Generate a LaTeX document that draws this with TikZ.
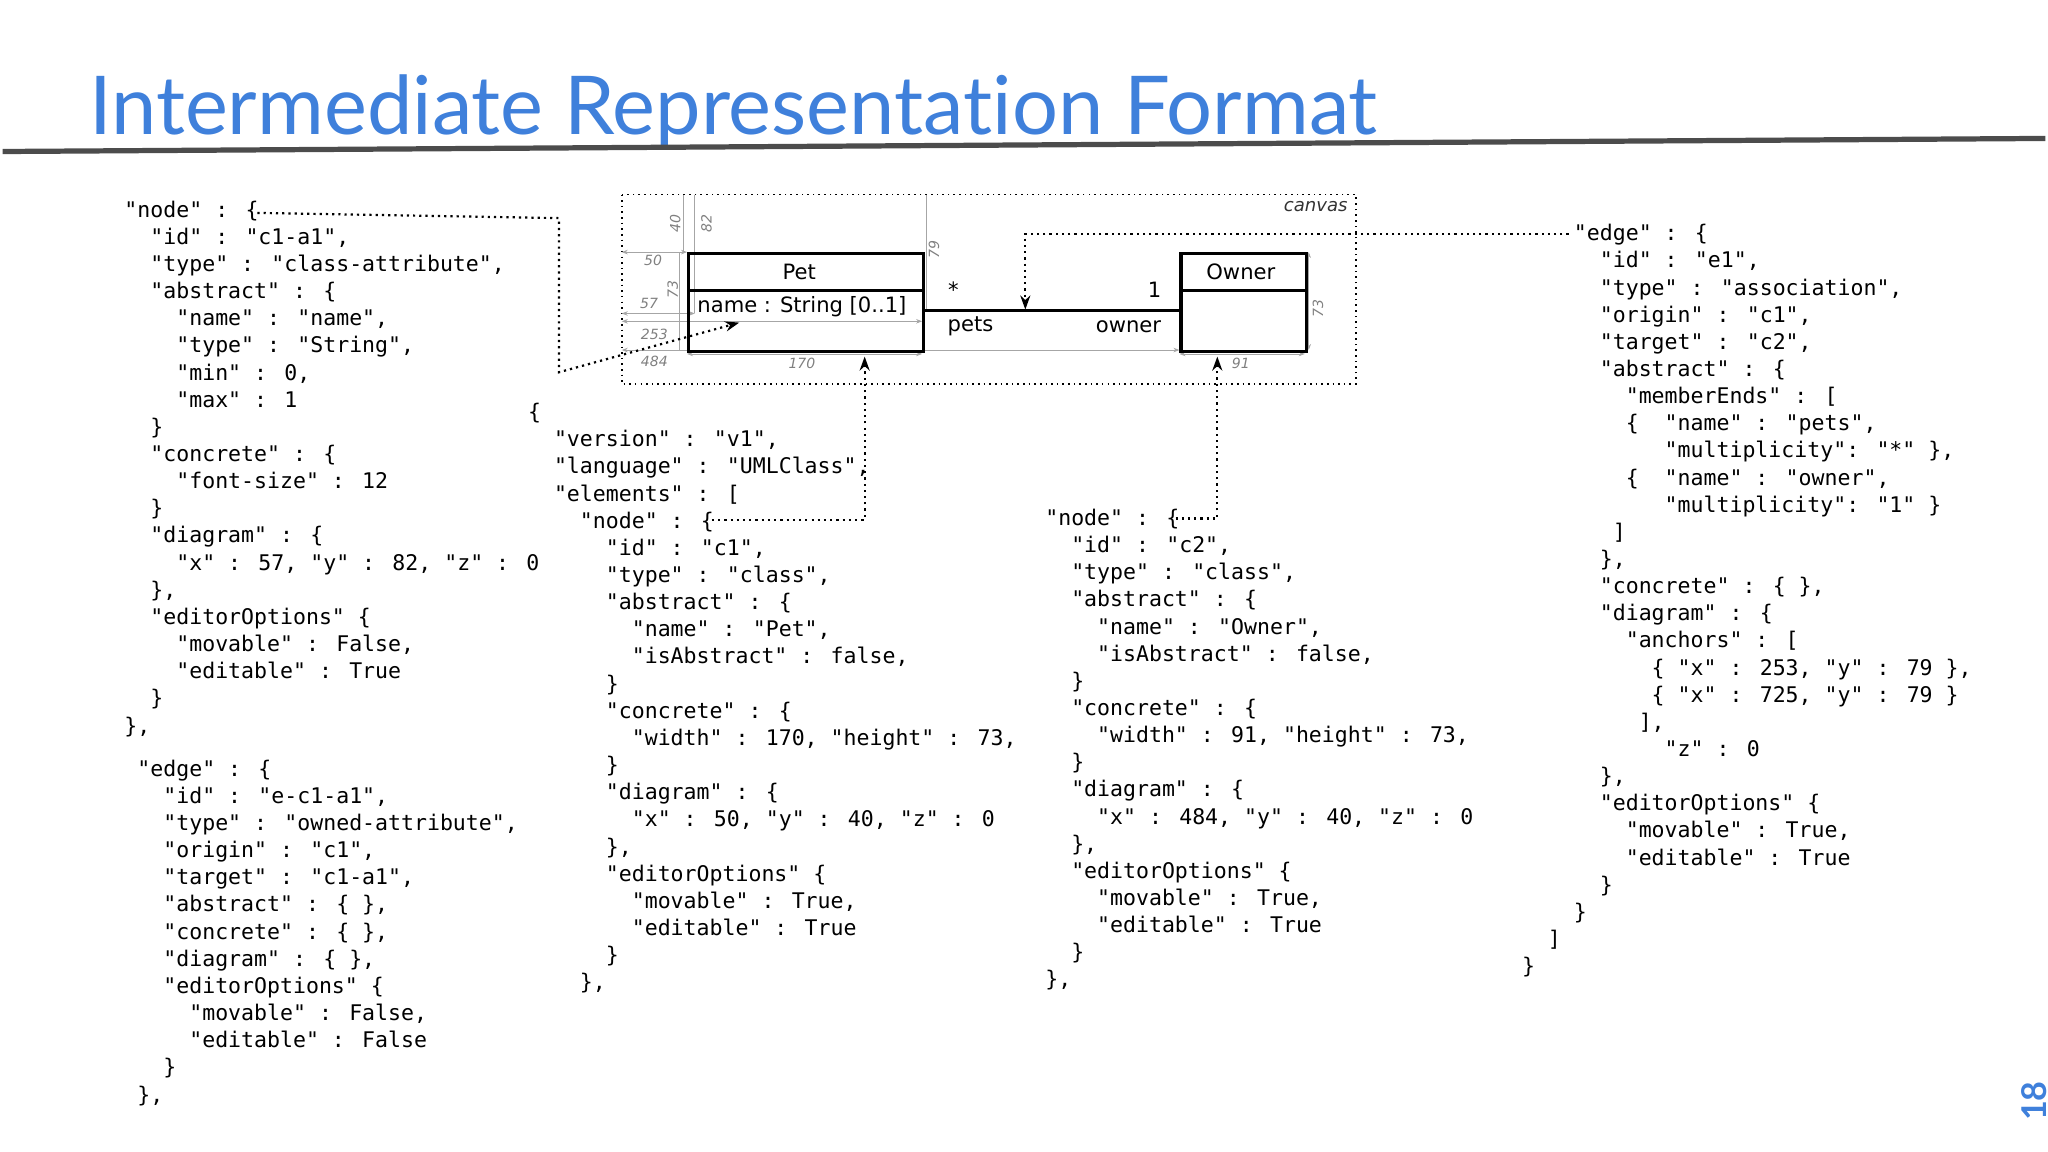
\documentclass[tikz,border=0pt]{standalone}
\usepackage{fontspec}
\usetikzlibrary{arrows.meta}
\newfontfamily\codefont{DejaVu Sans Mono}
\newfontfamily\diafont{DejaVu Sans}
\newfontfamily\titlefont{Lato}
\definecolor{titleblue}{HTML}{3F80DB}
\newcommand\I[1]{\hspace*{#1\fontcharwd\font`x}}
\tikzset{
  code/.style={font=\codefont\fontsize{10.72}{13.51}\selectfont, align=left, anchor=north west, inner sep=0pt},
  cls/.style={draw, line width=1.6pt},
  dim/.style={draw=gray!70, line width=0.4pt},
  dimlab/.style={font=\diafont\itshape\fontsize{7}{8}\selectfont, text=gray, inner sep=0pt},
  dia/.style={font=\diafont\fontsize{10.5}{12}\selectfont, inner sep=0pt},
  link/.style={draw, line width=1.1pt, dotted, -{Stealth[length=7pt,width=5pt]}},
}
\begin{document}
\begin{tikzpicture}[x=0.65pt,y=-0.65pt]
\useasboundingbox (0,0) rectangle (1568,882);
% title
\node[anchor=base west, inner sep=0, text=titleblue] (title) at (68,103) {\resizebox{641pt}{!}{\titlefont Intermediate Representat\kern0pt ion Format}};
\draw[line width=2.6pt, gray!60!black] (2,116) -- (1566,106);
% page number
\node[rotate=90, text=titleblue, font=\titlefont\bfseries\fontsize{17}{17}\selectfont, inner sep=0] (pg) at (1557,843) {18};

% code blocks
\node[code] (b1) at (95,150.6) {\rule{0pt}{10pt}"node" : \{\\
\I2"id" : "c1-a1",\\
\I2"type" : "class-attribute",\\
\I2"abstract" : \{\\
\I4"name" : "name",\\
\I4"type" : "String",\\
\I4"min" : 0,\\
\I4"max" : 1\\
\I2\}\\
\I2"concrete" : \{\\
\I4"font-size" : 12\\
\I2\}\\
\I2"diagram" : \{\\
\I4"x" : 57, "y" : 82, "z" : 0\\
\I2\},\\
\I2"editorOptions" \{\\
\I4"movable" : False,\\
\I4"editable" : True\\
\I2\}\\
\},};

\node[code] (b2) at (95,578.6) {\rule{0pt}{10pt}\I1"edge" : \{\\
\I3"id" : "e-c1-a1",\\
\I3"type" : "owned-attribute",\\
\I3"origin" : "c1",\\
\I3"target" : "c1-a1",\\
\I3"abstract" : \{ \},\\
\I3"concrete" : \{ \},\\
\I3"diagram" : \{ \},\\
\I3"editorOptions" \{\\
\I5"movable" : False,\\
\I5"editable" : False\\
\I3\}\\
\I1\},};

\node[code] (b3) at (404,305.6) {\rule{0pt}{10pt}\{\\
\I2"version" : "v1",\\
\I2"language" : "UMLClass",\\
\I2"elements" : [\\
\I4"node" : \{\\
\I6"id" : "c1",\\
\I6"type" : "class",\\
\I6"abstract" : \{\\
\I8"name" : "Pet",\\
\I8"isAbstract" : false,\\
\I6\}\\
\I6"concrete" : \{\\
\I8"width" : 170, "height" : 73,\\
\I6\}\\
\I6"diagram" : \{\\
\I8"x" : 50, "y" : 40, "z" : 0\\
\I6\},\\
\I6"editorOptions" \{\\
\I8"movable" : True,\\
\I8"editable" : True\\
\I6\}\\
\I4\},};

\node[code] (b4) at (800,386.6) {\rule{0pt}{10pt}"node" : \{\\
\I2"id" : "c2",\\
\I2"type" : "class",\\
\I2"abstract" : \{\\
\I4"name" : "Owner",\\
\I4"isAbstract" : false,\\
\I2\}\\
\I2"concrete" : \{\\
\I4"width" : 91, "height" : 73,\\
\I2\}\\
\I2"diagram" : \{\\
\I4"x" : 484, "y" : 40, "z" : 0\\
\I2\},\\
\I2"editorOptions" \{\\
\I4"movable" : True,\\
\I4"editable" : True\\
\I2\}\\
\},};

\node[code] (b5) at (1165,168.6) {\rule{0pt}{10pt}\I4"edge" : \{\\
\I6"id" : "e1",\\
\I6"type" : "association",\\
\I6"origin" : "c1",\\
\I6"target" : "c2",\\
\I6"abstract" : \{\\
\I8"memberEnds" : [\\
\I8\{\I2"name" : "pets",\\
\I{11}"multiplicity": "*" \},\\
\I8\{\I2"name" : "owner",\\
\I{11}"multiplicity": "1" \}\\
\I7]\\
\I6\},\\
\I6"concrete" : \{ \},\\
\I6"diagram" : \{\\
\I8"anchors" : [\\
\I{10}\{ "x" : 253, "y" : 79 \},\\
\I{10}\{ "x" : 725, "y" : 79 \}\\
\I9],\\
\I{11}"z" : 0\\
\I6\},\\
\I6"editorOptions" \{\\
\I8"movable" : True,\\
\I8"editable" : True\\
\I6\}\\
\I4\}\\
\I2]\\
\}};

% canvas
\draw[dotted, line width=0.8pt] (476,149) rectangle (1038,294);
\node[dimlab, font=\diafont\itshape\fontsize{9}{10}\selectfont, text=black!80, anchor=east] (cv) at (1032,158) {canvas};

% dimension lines
\draw[dim] (523,149) -- (523,193);
\node[dimlab, rotate=90] (d40) at (517,171) {40};
\draw[dim] (532,149) -- (532,240);
\node[dimlab, rotate=90] (d82) at (541,171) {82};
\draw[dim] (709,149) -- (709,237);
\node[dimlab, rotate=90] (d79) at (715,191) {79};
\draw[dim,<->,>={Stealth[length=3pt]}] (476,193) -- (526,193);
\node[dimlab] (d50) at (500,199) {50};
\draw[dim] (520,193) -- (520,268);
\node[dimlab, rotate=90] (d73a) at (515,222) {73};
\draw[dim,<->,>={Stealth[length=3pt]}] (476,240) -- (532,240);
\node[dimlab] (d57) at (497,232) {57};
\draw[dim,<->,>={Stealth[length=3pt]}] (476,246) -- (706,246);
\node[dimlab] (d253) at (501,256) {253};
\draw[dim,<->,>={Stealth[length=3pt]}] (476,268) -- (903,268);
\node[dimlab] (d484) at (501,277) {484};
\draw[dim,<->,>={Stealth[length=3pt]}] (526,271) -- (706,271);
\node[dimlab] (d170) at (614,278) {170};
\draw[dim,<->,>={Stealth[length=3pt]}] (903,271) -- (999,271);
\node[dimlab] (d91) at (950,278) {91};
\draw[dim,<->,>={Stealth[length=3pt]}] (1002,193) -- (1002,268);
\node[dimlab, rotate=90] (d73b) at (1009,236) {73};

% classes
\node[cls, minimum width=117pt, minimum height=48.75pt, anchor=north west, inner sep=0] (pet) at (526,193) {};
\draw[line width=1.6pt] (526,222.5) -- (706,222.5);
\node[dia] (petname) at (612,208) {Pet};
\node[dia] (petattr) at (614,235) {name : String [0..1]};
\node[cls, minimum width=62.4pt, minimum height=48.75pt, anchor=north west, inner sep=0] (owner) at (903,193) {};
\draw[line width=1.6pt] (903,222.5) -- (999,222.5);
\node[dia] (ownername) at (950,208) {Owner};
\coordinate (assocA) at (706,237.5);
\coordinate (assocB) at (903,237.5);
\draw[line width=1.6pt] (assocA) -- (assocB);
\node[dia] (star) at (730,222) {*};
\node[dia] (one) at (884,222) {1};
\node[dia] (pets) at (743,250) {pets};
\node[dia] (ownrole) at (864,250) {owner};

% links
\coordinate (l1s) at (197,163);
\coordinate (l1e) at (566,247);
\draw[link] (l1s) -- (428,167) -- (428,285) -- (l1e);
\coordinate (l2s) at (545,398);
\coordinate (l2e) at (662,273);
\draw[link] (l2s) -- (662,398) -- (l2e);
\coordinate (l3s) at (900,397);
\coordinate (l3e) at (932,273);
\draw[link] (l3s) -- (932,397) -- (l3e);
\coordinate (l4s) at (1201,179);
\coordinate (l4e) at (785,237);
\draw[link] (l4s) -- (785,179) -- (l4e);
\end{tikzpicture}
\end{document}
